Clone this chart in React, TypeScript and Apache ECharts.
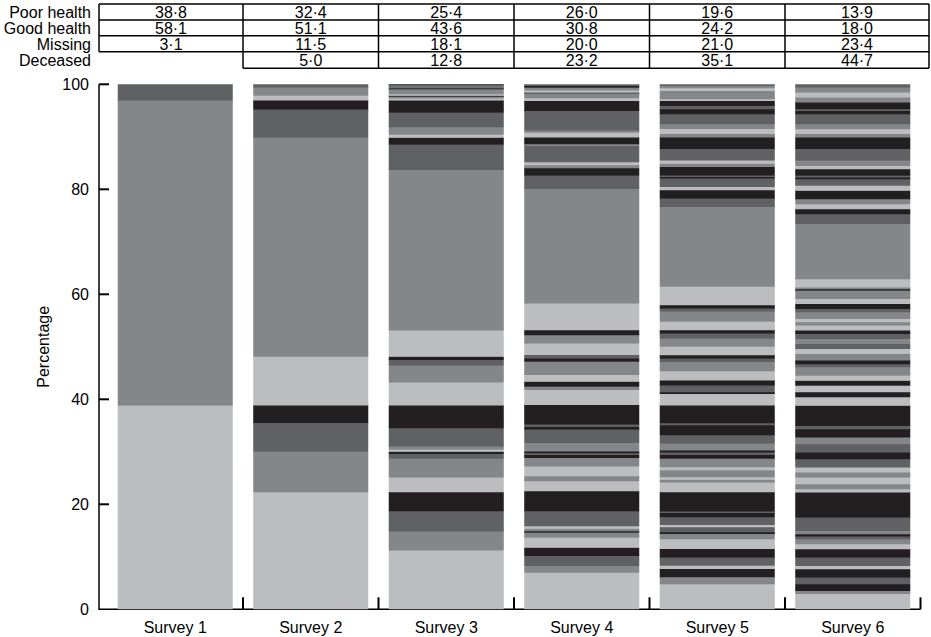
import React, { useEffect, useRef } from "react";
import * as echarts from "echarts";

const categories = ["Survey 1", "Survey 2", "Survey 3", "Survey 4", "Survey 5", "Survey 6"];
const stateCodes = ["P", "G", "M", "D"];
const stateColors = ["#bbbdbf", "#84878a", "#606163", "#231f20"];

const rowLabels = ["Poor health", "Good health", "Missing", "Deceased"];
const poorHealthPct = [38.8, 32.4, 25.4, 26.0, 19.6, 13.9];
const goodHealthPct = [58.1, 51.1, 43.6, 30.8, 24.2, 18.0];
const missingPct = [3.1, 11.5, 18.1, 20.0, 21.0, 23.4];
const deceasedPct: (number | null)[] = [null, 5.0, 12.8, 23.2, 35.1, 44.7];

const yTicks = [0, 20, 40, 60, 80, 100];

// segments from bottom to top: [state, percentage]
const survey1Segments: [string, number][] = [["P", 38.8], ["G", 58.1], ["M", 3.1]];
const survey2Segments: [string, number][] = [
  ["P", 22.3], ["G", 7.7], ["M", 5.5], ["D", 3.3],
  ["P", 9.3], ["G", 41.7], ["M", 5.4], ["D", 1.7],
  ["P", 0.9], ["G", 1.6], ["M", 0.6],
];
const survey3Segments: [string, number][] = [
  ["P", 11.2], ["G", 3.6], ["M", 3.9], ["D", 3.6],
  ["P", 2.8], ["G", 3.6], ["M", 0.9], ["D", 0.4],
  ["P", 0.4], ["G", 0.6], ["M", 3.5], ["D", 1.0],
  ["D", 3.3],
  ["P", 4.4], ["G", 3.2], ["M", 1.1], ["D", 0.6],
  ["P", 5.0], ["G", 30.6], ["M", 4.8], ["D", 1.3],
  ["P", 0.6], ["G", 1.4], ["M", 2.8], ["D", 0.6],
  ["D", 1.7],
  ["P", 0.4], ["G", 0.3], ["M", 0.1], ["D", 0.1],
  ["P", 0.3], ["G", 0.8], ["M", 0.3], ["D", 0.2],
  ["P", 0.1], ["G", 0.1], ["M", 0.3], ["D", 0.1],
];
const survey4Segments: [string, number][] = [
  ["P", 7.0], ["G", 1.27], ["M", 1.9], ["D", 1.59], ["P", 1.9], ["G", 0.96], ["D", 0.31],
  ["G", 0.48], ["P", 0.48], ["M", 2.84], ["D", 3.82], ["P", 1.91], ["G", 0.95], ["P", 1.9],
  ["G", 1.59], ["D", 0.6], ["M", 0.3], ["D", 0.37], ["G", 1.59], ["M", 2.54], ["D", 0.6],
  ["M", 0.4], ["D", 3.76], ["P", 2.86], ["G", 0.63], ["D", 0.95], ["P", 1.27], ["G", 2.54],
  ["D", 0.6], ["M", 0.67], ["P", 2.23], ["G", 1.58], ["D", 0.96], ["P", 5.08], ["G", 21.9],
  ["M", 2.54], ["D", 1.4], ["G", 0.6], ["P", 0.54], ["M", 3.17], ["G", 0.3], ["D", 1.29],
  ["P", 0.9], ["G", 0.37], ["M", 3.81], ["D", 1.91], ["P", 0.5], ["G", 0.8], ["M", 0.3],
  ["P", 0.4], ["G", 0.5], ["D", 0.35], ["M", 0.32],
];
const survey5Segments: [string, number][] = [
  ["P", 4.8], ["G", 1.3], ["D", 1.6], ["P", 0.6], ["M", 1.6], ["D", 1.6], ["P", 1.9], ["G", 1.0],
  ["D", 0.3], ["M", 1.0], ["P", 0.4], ["M", 1.5], ["D", 0.8], ["M", 0.3], ["D", 3.65], ["P", 1.9],
  ["G", 0.5], ["P", 0.5], ["G", 1.3], ["P", 0.6], ["G", 1.6], ["D", 0.8], ["M", 0.4], ["D", 0.4],
  ["G", 1.3], ["M", 1.6], ["D", 1.9], ["M", 0.4], ["D", 3.4], ["P", 2.2], ["D", 0.3], ["M", 1.3],
  ["D", 0.95], ["P", 1.8], ["G", 1.75], ["M", 0.6], ["D", 0.7], ["P", 1.6], ["G", 1.59], ["M", 0.95],
  ["D", 0.64], ["P", 1.6], ["G", 1.9], ["M", 0.64], ["D", 0.64], ["P", 3.5], ["G", 15.24], ["M", 1.6],
  ["D", 1.6], ["P", 0.64], ["M", 1.6], ["D", 0.3], ["M", 0.3], ["D", 1.6], ["G", 0.63], ["P", 0.64],
  ["M", 2.2], ["D", 2.2], ["G", 0.64], ["P", 0.95], ["G", 0.95], ["M", 1.9], ["D", 0.95], ["M", 0.63],
  ["D", 0.96], ["P", 0.31], ["G", 1.59], ["P", 0.5], ["G", 0.45], ["M", 0.32],
];
const survey6Segments: [string, number][] = [
  ["P", 2.9], ["G", 0.6], ["D", 1.27], ["M", 1.27], ["D", 1.6], ["P", 0.63], ["M", 1.6], ["D", 1.6],
  ["P", 0.95], ["G", 0.95], ["M", 0.5], ["D", 0.45], ["G", 0.63], ["M", 2.55], ["D", 4.77], ["P", 0.63],
  ["G", 0.95], ["P", 1.27], ["G", 0.95], ["P", 0.95], ["M", 1.6], ["D", 1.27], ["M", 1.6], ["G", 1.27],
  ["D", 1.6], ["M", 0.6], ["D", 3.86], ["P", 1.6], ["D", 0.95], ["P", 1.27], ["D", 0.95], ["P", 0.95],
  ["G", 1.6], ["M", 0.6], ["D", 0.7], ["G", 1.27], ["P", 0.95], ["M", 0.95], ["G", 0.95], ["M", 0.95],
  ["D", 0.64], ["P", 0.95], ["G", 0.63], ["P", 0.64], ["G", 1.27], ["M", 0.64], ["D", 0.95], ["P", 0.95],
  ["G", 1.57], ["D", 0.3], ["G", 0.32], ["P", 1.59], ["G", 10.5], ["M", 1.9], ["D", 0.95], ["P", 0.95],
  ["G", 0.95], ["D", 1.6], ["P", 0.95], ["M", 1.27], ["D", 0.3], ["M", 0.34], ["D", 1.27], ["P", 0.6],
  ["G", 1.0], ["M", 2.22], ["D", 2.22], ["G", 0.64], ["P", 0.95], ["G", 0.95], ["M", 1.9], ["D", 0.6],
  ["M", 0.35], ["D", 1.27], ["G", 0.95], ["P", 0.95], ["G", 0.95], ["M", 0.63],
];

const allSurveys = [survey1Segments, survey2Segments, survey3Segments, survey4Segments, survey5Segments, survey6Segments];

const FONT = '"Liberation Sans", Arial, Helvetica, sans-serif';
const W = 931;
const H = 637;
const GRID_LEFT = 107.5;
const GRID_RIGHT_EDGE = 920.5;
const GRID_TOP = 84.3;
const GRID_BOTTOM_Y = 609.3;
const AXIS_X = 99;

function fmt(v: number | null) {
  return v == null ? "" : v.toFixed(1).replace(".", "\u00B7");
}

export default function App() {
  const ref = useRef<HTMLDivElement>(null);

  useEffect(() => {
    if (!ref.current) return;
    const chart = echarts.init(ref.current, undefined, { renderer: "svg" });

    const rectData: number[][] = [];
    allSurveys.forEach((segs, ci) => {
      const total = segs.reduce((s, [, v]) => s + v, 0);
      let acc = 0;
      segs.forEach(([st, v]) => {
        const y0 = acc;
        acc += (v * 100) / total;
        rectData.push([ci, y0, acc, stateCodes.indexOf(st)]);
      });
    });

    const band = (GRID_RIGHT_EDGE - GRID_LEFT) / categories.length;
    const lineStyle = { stroke: "#000", lineWidth: 1.5 };

    // table layout
    const colEdges = [AXIS_X];
    for (let k = 1; k < categories.length; k++) colEdges.push(GRID_LEFT + band * k);
    colEdges.push(929);
    const rowEdges = [4, 20, 35.8, 51.7, 68.3];
    const tableRows = [poorHealthPct, goodHealthPct, missingPct, deceasedPct];
    const graphics: any[] = [];
    rowEdges.forEach((y, i) => {
      graphics.push({
        type: "line",
        shape: { x1: i === 4 ? colEdges[1] : colEdges[0], y1: y, x2: colEdges[6], y2: y },
        style: lineStyle,
      });
    });
    colEdges.forEach((x, i) => {
      graphics.push({
        type: "line",
        shape: { x1: x, y1: rowEdges[0], x2: x, y2: i === 0 ? rowEdges[3] : rowEdges[4] },
        style: lineStyle,
      });
    });
    rowLabels.forEach((lab, r) => {
      const cy = (rowEdges[r] + rowEdges[r + 1]) / 2 + 0.5;
      graphics.push({
        type: "text",
        style: {
          text: lab, x: 91, y: cy, textAlign: "right", textVerticalAlign: "middle",
          fontSize: 16, fontFamily: FONT, fill: "#000",
        },
      });
      tableRows[r].forEach((v, c) => {
        if (v == null) return;
        graphics.push({
          type: "text",
          style: {
            text: fmt(v), x: (colEdges[c] + colEdges[c + 1]) / 2, y: cy,
            textAlign: "center", textVerticalAlign: "middle",
            fontSize: 16, fontFamily: FONT, fill: "#000",
          },
        });
      });
    });

    // axis lines and inward ticks
    graphics.push({
      type: "line",
      shape: { x1: AXIS_X, y1: GRID_BOTTOM_Y, x2: GRID_RIGHT_EDGE, y2: GRID_BOTTOM_Y },
      style: lineStyle,
    });
    graphics.push({
      type: "line",
      shape: { x1: AXIS_X, y1: GRID_TOP, x2: AXIS_X, y2: GRID_BOTTOM_Y + 0.75 },
      style: lineStyle,
    });
    const yMax = yTicks[yTicks.length - 1];
    yTicks.forEach((t) => {
      if (t === 0) return;
      const y = GRID_BOTTOM_Y - (t / yMax) * (GRID_BOTTOM_Y - GRID_TOP);
      graphics.push({
        type: "line",
        shape: { x1: AXIS_X, y1: y, x2: AXIS_X + 10, y2: y },
        style: { stroke: "#000", lineWidth: 2 },
      });
    });
    for (let k = 1; k <= categories.length; k++) {
      const x = GRID_LEFT + band * k;
      graphics.push({
        type: "line",
        shape: { x1: x, y1: GRID_BOTTOM_Y, x2: x, y2: GRID_BOTTOM_Y - 12 },
        style: { stroke: "#000", lineWidth: 2 },
      });
    }

    chart.setOption({
      animation: false,
      grid: {
        left: GRID_LEFT,
        right: W - GRID_RIGHT_EDGE,
        top: GRID_TOP,
        bottom: H - GRID_BOTTOM_Y,
        containLabel: false,
      },
      xAxis: {
        type: "category",
        data: categories,
        boundaryGap: true,
        axisLine: { show: false },
        axisTick: { show: false },
        axisLabel: { color: "#000", fontSize: 16, fontFamily: FONT, margin: 10 },
        splitLine: { show: false },
      },
      yAxis: {
        type: "value",
        min: yTicks[0],
        max: yMax,
        interval: yTicks[1] - yTicks[0],
        offset: GRID_LEFT - AXIS_X,
        name: "Percentage",
        nameLocation: "middle",
        nameRotate: 90,
        nameGap: 45,
        nameTextStyle: { color: "#000", fontSize: 16, fontFamily: FONT },
        axisLine: { show: false },
        axisTick: { show: false },
        axisLabel: { color: "#000", fontSize: 16, fontFamily: FONT, margin: 10 },
        splitLine: { show: false },
      },
      graphic: graphics,
      series: [
        {
          type: "custom",
          data: rectData,
          encode: { x: 0, y: [1, 2] },
          renderItem: (params: any, api: any) => {
            const ci = api.value(0);
            const y0 = api.value(1);
            const y1 = api.value(2);
            const st = api.value(3);
            const p0 = api.coord([ci, y0]);
            const p1 = api.coord([ci, y1]);
            const bw = api.size([1, 0])[0] * 0.849;
            const top = y1 >= 99.999 ? p1[1] : p1[1] - 0.5;
            return {
              type: "rect",
              shape: { x: p0[0] - bw / 2, y: top, width: bw, height: p0[1] - top },
              style: { fill: stateColors[st], stroke: null },
            };
          },
        },
      ],
    });

    return () => chart.dispose();
  }, []);

  return (
    <div
      ref={ref}
      style={{ position: "fixed", left: 0, top: 0, width: W, height: H, background: "#fff" }}
    />
  );
}
